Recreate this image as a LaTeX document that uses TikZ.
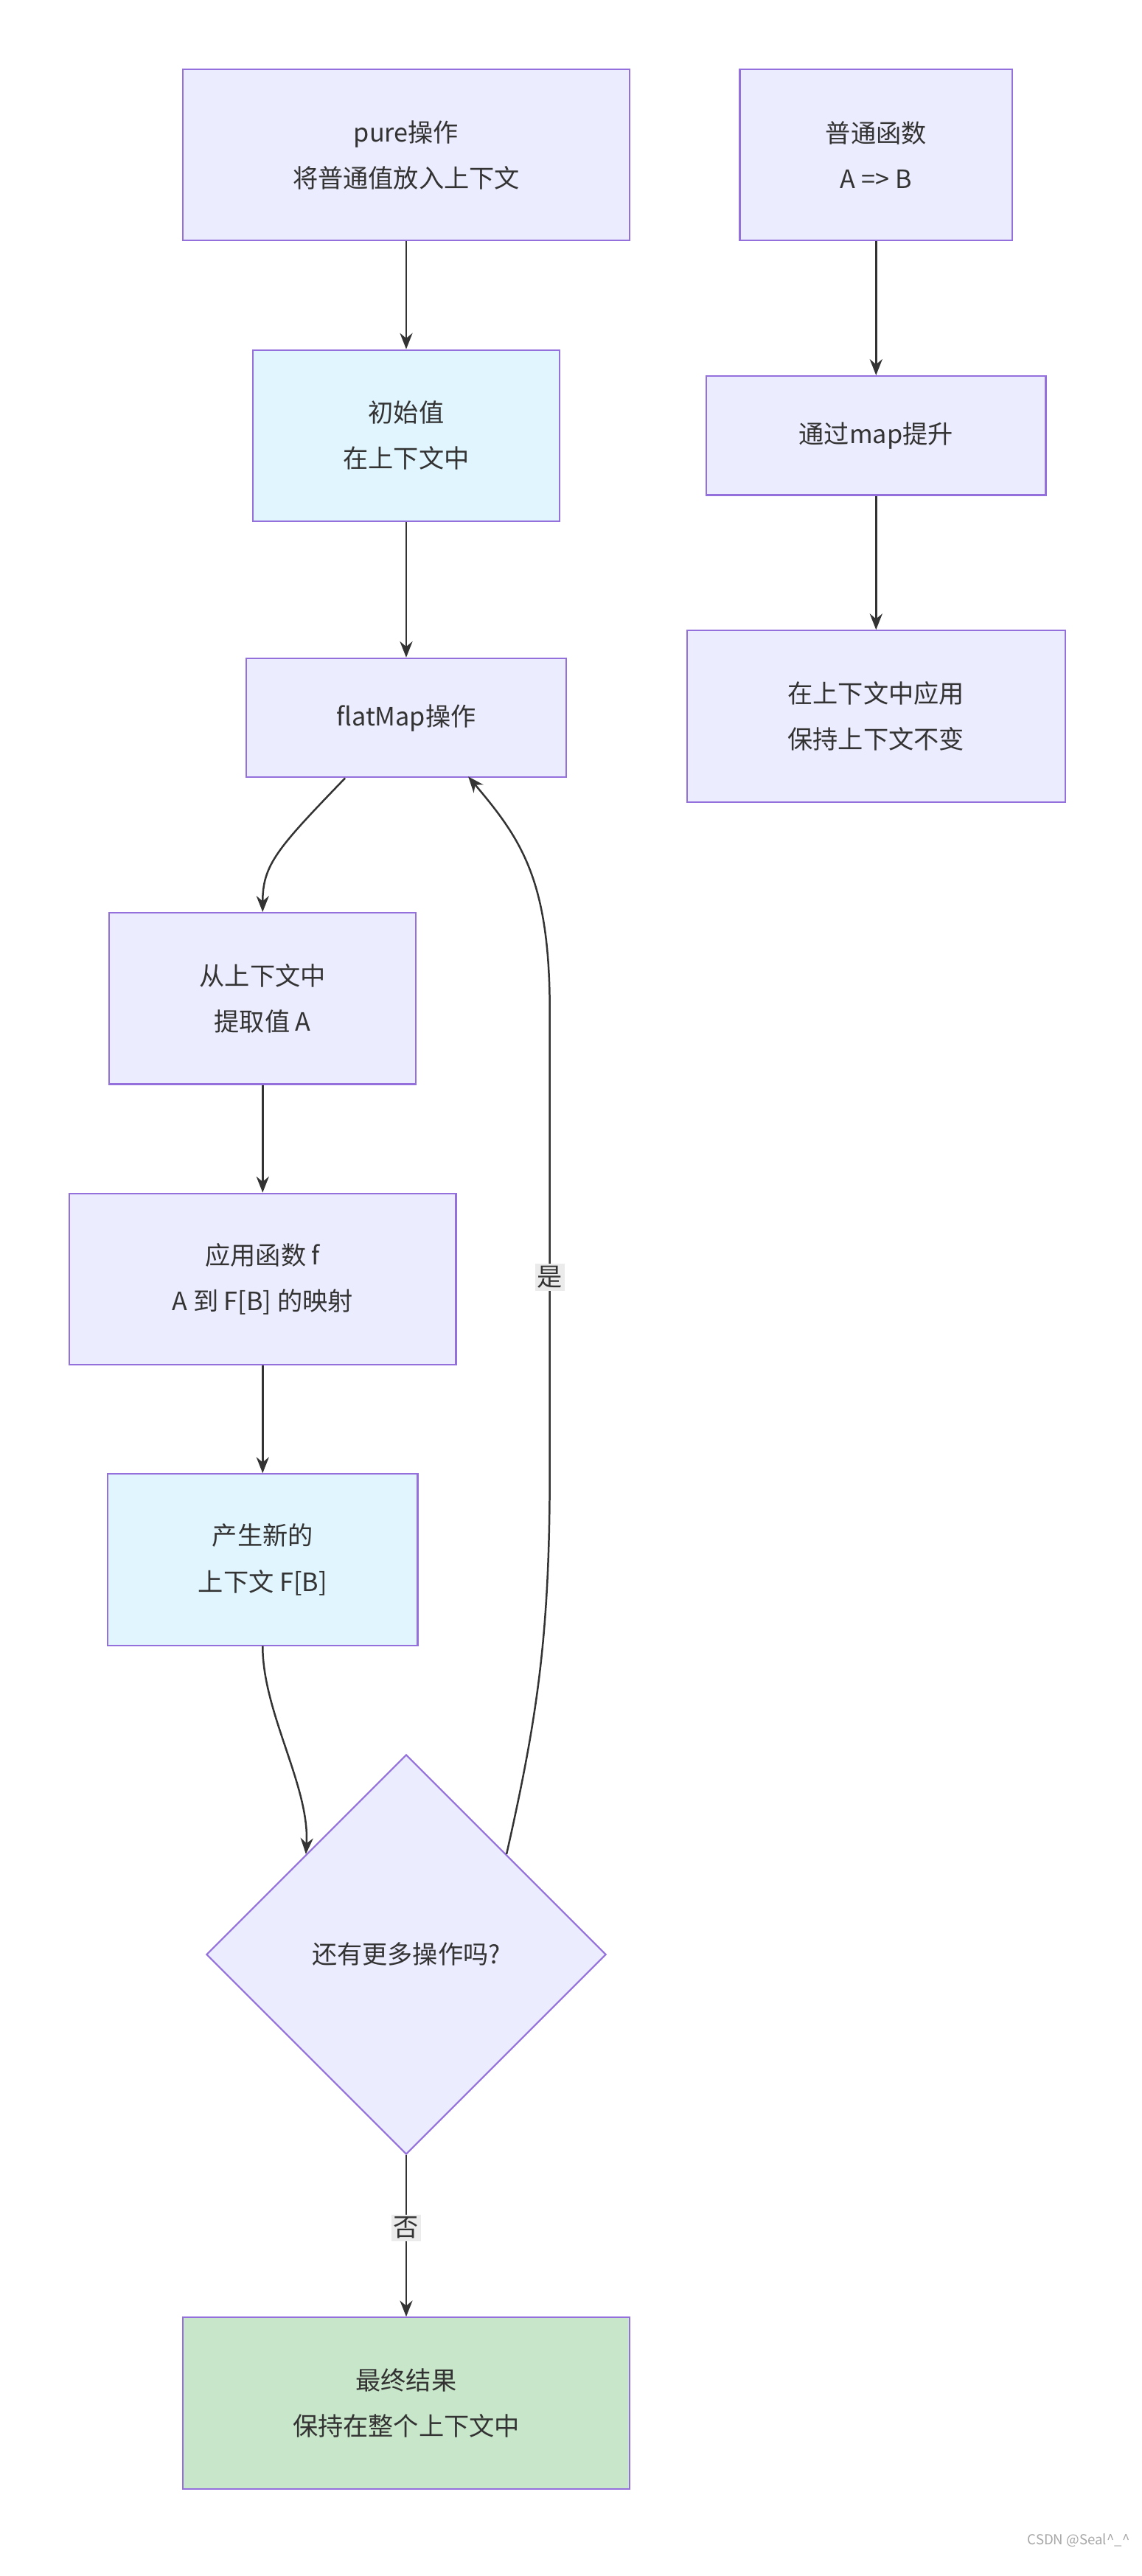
\documentclass[tikz,border=0pt]{standalone}
\usepackage{fontspec}
\setmainfont{Noto Sans CJK SC}
\usetikzlibrary{shapes.geometric,arrows.meta}
\definecolor{myPurple}{RGB}{236,236,255}
\definecolor{myBlue}{RGB}{225,245,254}
\definecolor{myGreen}{RGB}{200,230,201}
\definecolor{myBorder}{RGB}{147,112,219}
\definecolor{myLine}{RGB}{51,51,51}
\tikzset{
  box/.style={draw=myBorder, line width=1.4pt, fill=myPurple, align=center,
    font=\fontsize{22}{40}\selectfont, text=myLine, inner sep=0pt},
  link/.style={draw=myLine, line width=1.6pt, -{Stealth[length=14pt,width=11pt]}},
  tag/.style={fill=black!8, font=\fontsize{22}{26}\selectfont, text=myLine, inner sep=2pt}
}
\begin{document}
\begin{tikzpicture}[x=0.05cm, y=-0.05cm]
  \useasboundingbox (0,0) rectangle (700,1579);
  % linke Spalte
  \node[box, minimum width=274*0.05cm, minimum height=105*0.05cm] (pure) at (249,95) {pure操作\\将普通值放入上下文};
  \node[box, fill=myBlue, minimum width=188*0.05cm, minimum height=105*0.05cm] (init) at (249,267) {初始值\\在上下文中};
  \node[box, minimum width=196*0.05cm, minimum height=73*0.05cm] (flat) at (249,440) {flatMap操作};
  \node[box, minimum width=188*0.05cm, minimum height=105*0.05cm] (extract) at (161,612) {从上下文中\\提取值 A};
  \node[box, minimum width=237*0.05cm, minimum height=105*0.05cm] (apply) at (161,784) {应用函数 f\\A 到 F[B] 的映射};
  \node[box, fill=myBlue, minimum width=190*0.05cm, minimum height=105*0.05cm] (newctx) at (161,956) {产生新的\\上下文 F[B]};
  \node[box, shape=diamond, aspect=1, minimum width=245*0.05cm, minimum height=245*0.05cm] (more) at (249,1198) {还有更多操作吗?};
  \node[box, fill=myGreen, minimum width=274*0.05cm, minimum height=105*0.05cm] (result) at (249,1473) {最终结果\\保持在整个上下文中};
  % rechte Spalte
  \node[box, minimum width=167*0.05cm, minimum height=105*0.05cm] (func) at (537,95) {普通函数\\A => B};
  \node[box, minimum width=208*0.05cm, minimum height=73*0.05cm] (lift) at (537,267) {通过map提升};
  \node[box, minimum width=232*0.05cm, minimum height=105*0.05cm] (inctx) at (537,439) {在上下文中应用\\保持上下文不变};
  % Verbindungen
  \draw[link] (pure) -- (init);
  \draw[link] (init) -- (flat);
  \draw[link] (flat.south west) ++(61,0) .. controls (170,520) and (161,530) .. (extract.north);
  \draw[link] (extract) -- (apply);
  \draw[link] (apply) -- (newctx);
  \draw[link] (newctx.south) .. controls (161,1050) and (190,1095) .. (more.north west);
  \draw[link] (more.north east) .. controls (330,1050) and (337,1000) .. (337,900)
    -- (337,620) .. controls (337,540) and (320,515) .. (287,476);
  \node[tag] (yes) at (337,783) {是};
  \draw[link] (more) -- (result) node[tag, pos=0.45] (no) {否};
  \draw[link] (func) -- (lift);
  \draw[link] (lift) -- (inctx);
  \node[text=black!35, font=\fontsize{12}{14}\selectfont, anchor=east] (mark) at (695,1557) {CSDN @Seal\^{}\_\^{}};
\end{tikzpicture}
\end{document}
